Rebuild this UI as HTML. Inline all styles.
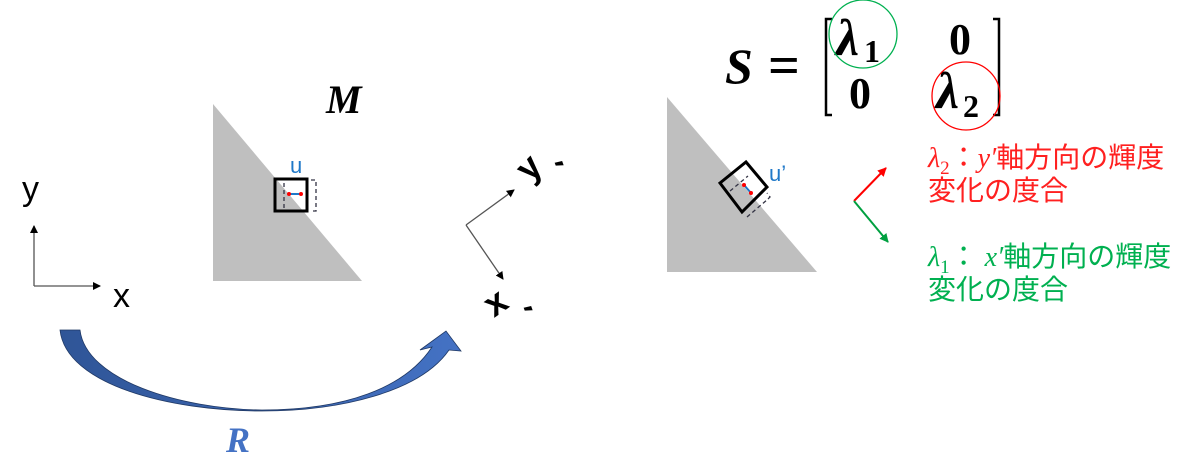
<!DOCTYPE html>
<html><head><meta charset="utf-8"><style>
html,body{margin:0;padding:0;background:#fff;width:1200px;height:462px;overflow:hidden}
</style></head><body>
<svg width="1200" height="462" viewBox="0 0 1200 462" xmlns="http://www.w3.org/2000/svg">
<defs>
<marker id="ak" markerWidth="8" markerHeight="8" refX="7" refY="4" orient="auto" markerUnits="userSpaceOnUse"><path d="M0,0 L8,4 L0,8 Z" fill="#000"/></marker>
<marker id="ar" markerWidth="9" markerHeight="9" refX="8" refY="4.5" orient="auto" markerUnits="userSpaceOnUse"><path d="M0,0 L9,4.5 L0,9 Z" fill="#ff0000"/></marker>
<marker id="ag" markerWidth="9" markerHeight="9" refX="8" refY="4.5" orient="auto" markerUnits="userSpaceOnUse"><path d="M0,0 L9,4.5 L0,9 Z" fill="#00a040"/></marker>
<linearGradient id="bg" x1="0" x2="1" y1="0" y2="0"><stop offset="0" stop-color="#2f5597"/><stop offset="1" stop-color="#4472c4"/></linearGradient>
</defs>
<!-- left axes -->
<line x1="34" y1="286" x2="34" y2="226" stroke="#555" stroke-width="1.3" marker-end="url(#ak)"/>
<line x1="34" y1="286" x2="100" y2="286" stroke="#555" stroke-width="1.3" marker-end="url(#ak)"/>
<text x="22" y="200" font-family="Liberation Sans, sans-serif" font-size="34">y</text>
<text x="113" y="307" font-family="Liberation Sans, sans-serif" font-size="34">x</text>
<!-- triangle 1 -->
<polygon points="213,104 213,281 362,281" fill="#bfbfbf"/>
<text x="326" y="113" font-family="Liberation Serif, serif" font-weight="bold" font-style="italic" font-size="40">M</text>
<text x="290" y="173" font-family="Liberation Sans, sans-serif" font-size="22" fill="#1f78c8">u</text>
<rect x="275" y="179" width="32" height="32" fill="none" stroke="#000" stroke-width="3"/>
<line x1="284" y1="183" x2="284" y2="209" stroke="#334" stroke-width="1.3" stroke-dasharray="4,3"/>
<path d="M311,180 L316,180 L316,211 L311,211" fill="none" stroke="#334" stroke-width="1.3" stroke-dasharray="4,3"/>
<line x1="289" y1="194" x2="301" y2="194" stroke="#1f78c8" stroke-width="2"/>
<circle cx="289" cy="194" r="2" fill="red"/><circle cx="301" cy="194" r="2" fill="red"/>
<!-- middle axes -->
<line x1="466" y1="225" x2="514" y2="190" stroke="#555" stroke-width="1.3" marker-end="url(#ak)"/>
<line x1="466" y1="225" x2="503" y2="279" stroke="#555" stroke-width="1.3" marker-end="url(#ak)"/>
<text transform="translate(530,183) rotate(-45)" font-family="Liberation Sans, sans-serif" font-size="36" font-weight="bold">y</text>
<text transform="translate(542,166) rotate(70)" font-family="Liberation Sans, sans-serif" font-size="30" font-weight="bold">′</text>
<text transform="translate(494,318) rotate(-35)" font-family="Liberation Sans, sans-serif" font-size="36" font-weight="bold">x</text>
<text transform="translate(511,311) rotate(70)" font-family="Liberation Sans, sans-serif" font-size="30" font-weight="bold">′</text>
<!-- blue curved arrow -->
<path d="M60,330 L80,330 C86,380 180,409 262,410 C345,410 405,388 432,347 L420,350 L446,331 L461,351 L449,350 C420,392 340,411 262,411 C170,411 66,385 60,330 Z" fill="url(#bg)" stroke="#1f3864" stroke-width="0.8"/>
<text x="226" y="452" font-family="Liberation Serif, serif" font-weight="bold" font-style="italic" font-size="36" fill="#4472c4">R</text>
<!-- triangle 2 -->
<polygon points="667,97 667,272 817,272" fill="#bfbfbf"/>
<text x="769" y="181" font-family="Liberation Sans, sans-serif" font-size="22" fill="#1f78c8">u’</text>
<polygon points="720,183 746,162 767,187 742,212" fill="none" stroke="#000" stroke-width="3"/>
<line x1="730" y1="191" x2="748" y2="176" stroke="#334" stroke-width="1.3" stroke-dasharray="4,3"/>
<path d="M747,217 L768,199 M768,199 L770,197 L767,193" fill="none" stroke="#334" stroke-width="1.3" stroke-dasharray="4,3"/>
<line x1="744" y1="185" x2="751" y2="193" stroke="#1f78c8" stroke-width="2"/>
<circle cx="744" cy="185" r="2" fill="red"/><circle cx="751" cy="193" r="2" fill="red"/>
<!-- matrix -->
<text x="725" y="83" font-family="Liberation Serif, serif" font-weight="bold" font-style="italic" font-size="50">S</text>
<text x="768" y="84" font-family="Liberation Serif, serif" font-weight="bold" font-size="56">=</text>
<path d="M832,19 L826,19 L826,115 L832,115" fill="none" stroke="#000" stroke-width="2.5"/>
<path d="M993,19 L999,19 L999,115 L993,115" fill="none" stroke="#000" stroke-width="2.5"/>
<text x="836" y="55" font-family="Liberation Serif, serif" font-weight="bold" font-style="italic" font-size="52">λ</text>
<text x="864" y="62" font-family="Liberation Serif, serif" font-weight="bold" font-size="32">1</text>
<text x="949" y="54" font-family="Liberation Serif, serif" font-weight="bold" font-size="44">0</text>
<text x="849" y="108" font-family="Liberation Serif, serif" font-weight="bold" font-size="44">0</text>
<text x="936" y="108" font-family="Liberation Serif, serif" font-weight="bold" font-style="italic" font-size="52">λ</text>
<text x="963" y="117" font-family="Liberation Serif, serif" font-weight="bold" font-size="32">2</text>
<circle cx="863" cy="34" r="34" fill="none" stroke="#00b050" stroke-width="1.3"/>
<circle cx="966" cy="96" r="34" fill="none" stroke="#ff0000" stroke-width="1.3"/>
<!-- red/green arrows -->
<line x1="854" y1="201" x2="886" y2="168" stroke="#ff0000" stroke-width="2" marker-end="url(#ar)"/>
<line x1="854" y1="201" x2="888" y2="242" stroke="#00a040" stroke-width="2" marker-end="url(#ag)"/>
<!-- texts -->
<g font-family="Liberation Serif, 'Noto Sans CJK JP', sans-serif" font-size="28" fill="#ff2020">
<text x="928" y="167"><tspan font-style="italic">λ</tspan><tspan font-size="19" dy="7">2</tspan><tspan dy="-7">：</tspan><tspan font-style="italic">y′</tspan><tspan font-family="'Noto Sans CJK JP', sans-serif">軸方向の輝度</tspan></text>
<text x="928" y="200" font-family="'Noto Sans CJK JP', sans-serif">変化の度合</text>
</g>
<g font-family="Liberation Serif, 'Noto Sans CJK JP', sans-serif" font-size="28" fill="#00b050">
<text x="928" y="266"><tspan font-style="italic">λ</tspan><tspan font-size="19" dy="7">1</tspan><tspan dy="-7">： </tspan><tspan font-style="italic">x′</tspan><tspan font-family="'Noto Sans CJK JP', sans-serif">軸方向の輝度</tspan></text>
<text x="928" y="299" font-family="'Noto Sans CJK JP', sans-serif">変化の度合</text>
</g>
</svg>
</body></html>
